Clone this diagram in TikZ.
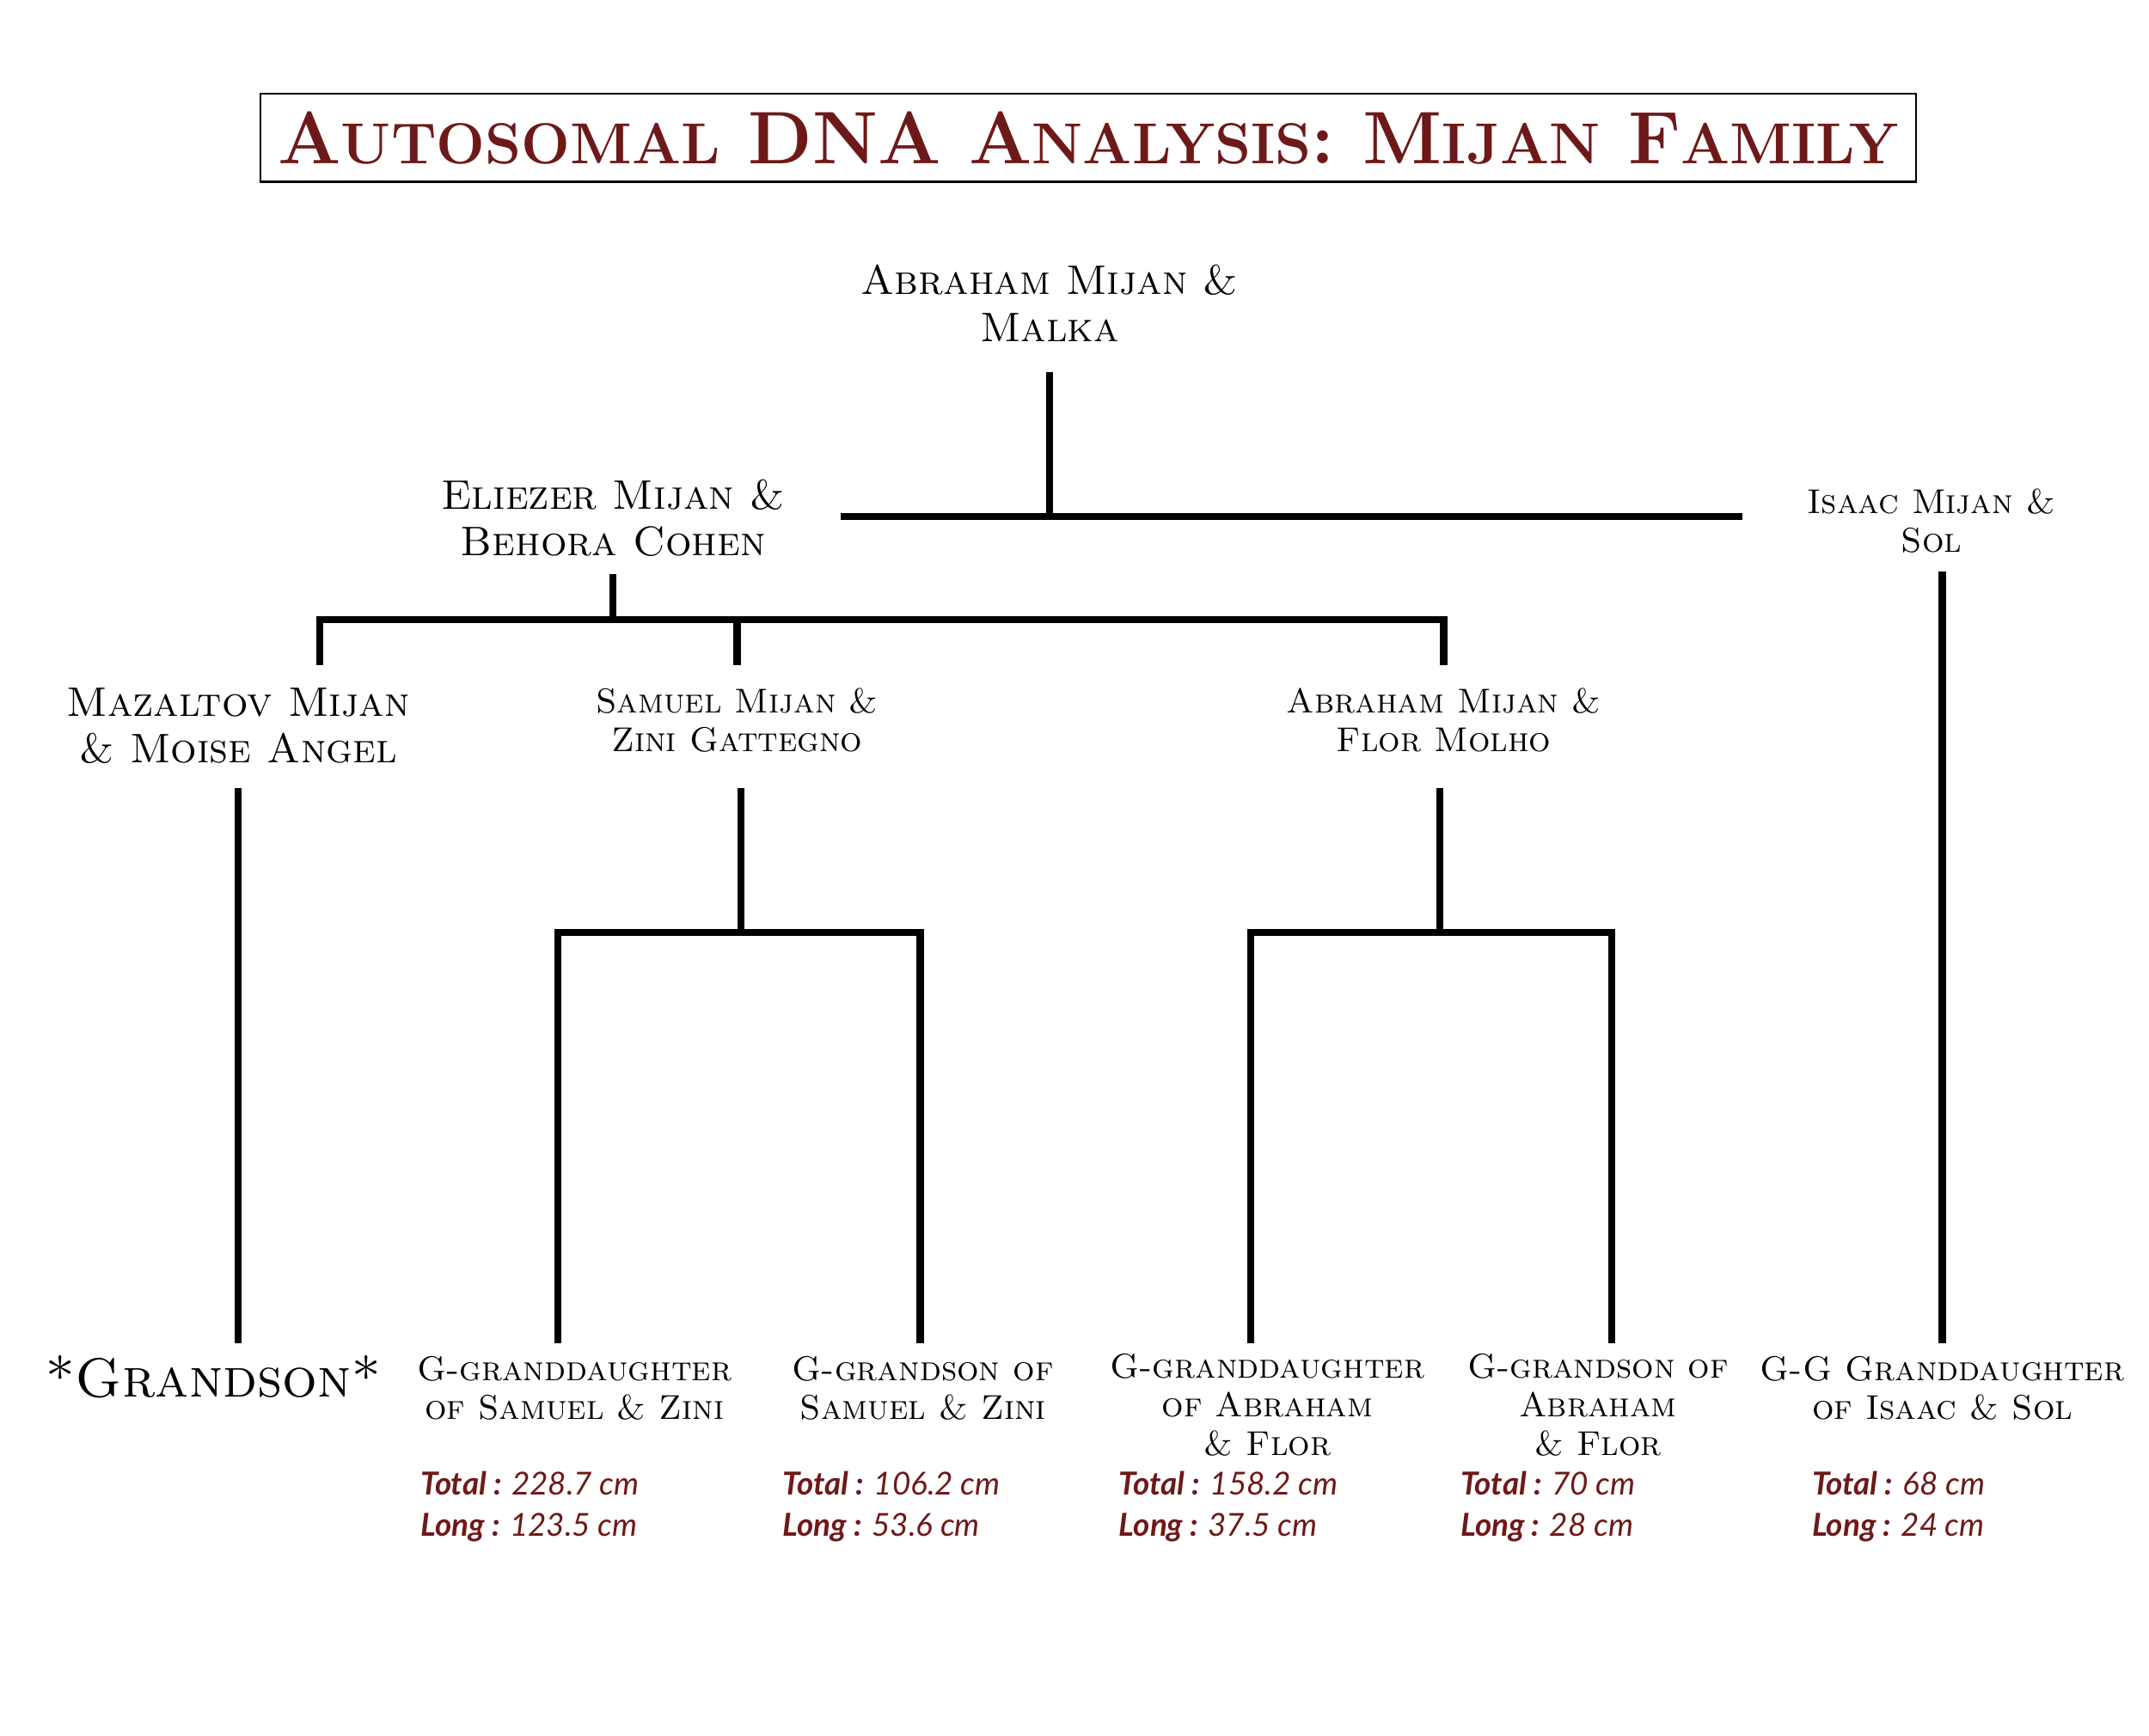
\documentclass[tikz,border=0pt]{standalone}
\usepackage{fontspec}
\newfontfamily\datafont{Lato}
\definecolor{dred}{HTML}{6E1919}
\newcommand{\tsc}[2]{#1{\fontsize{21}{22}\selectfont #2}}
\begin{document}
\begin{tikzpicture}[x=0.5pt,y=-0.5pt,
  line/.style={line width=2.6pt},
  person/.style={align=center,font=\fontsize{15}{17}\selectfont\scshape,inner sep=0pt},
  small/.style={align=center,font=\fontsize{12.5}{14}\selectfont\scshape,inner sep=0pt},
  data/.style={anchor=west,align=left,text=dred,font=\datafont\fontsize{11.5}{15}\selectfont\itshape,inner sep=0pt}]
\useasboundingbox (0,0) rectangle (1560,1260);
\node[draw=black,text=dred,line width=0.8pt,minimum width=601pt,minimum height=32pt,font=\fontsize{27}{30}\selectfont\bfseries] (title) at (790,100) {\tsc{A}{UTOSOMAL} DNA \tsc{A}{NALYSIS}: \tsc{M}{IJAN} \tsc{F}{AMILY}};
\node[person] (am) at (762,220) {Abraham Mijan \&\\Malka};
\node[person] (el) at (445,376) {Eliezer Mijan \&\\Behora Cohen};
\node[small] (is) at (1402,378) {Isaac Mijan \&\\Sol};
\node[person] (mz) at (173,527) {Mazaltov Mijan\\\& Moise Angel};
\node[small] (sa) at (535,523) {Samuel Mijan \&\\Zini Gattegno};
\node[small] (af) at (1048,523) {Abraham Mijan \&\\Flor Molho};
\node[inner sep=0pt,font=\fontsize{20}{22}\selectfont\scshape] (gs) at (155,1000) {*Grandson*};
\node[small] (c1) at (417,1008) {G-granddaughter\\of Samuel \& Zini};
\node[small] (c2) at (670,1008) {G-grandson of\\Samuel \& Zini};
\node[small] (c3) at (920,1020) {G-granddaughter\\of Abraham\\\& Flor};
\node[small] (c4) at (1160,1020) {G-grandson of\\Abraham\\\& Flor};
\node[small] (c5) at (1410,1008) {G-G Granddaughter\\of Isaac \& Sol};
\node[data] (d1) at (305,1094) {\textbf{Total :} 228.7 cm\\\textbf{Long :} 123.5 cm};
\node[data] (d2) at (568,1094) {\textbf{Total :} 106.2 cm\\\textbf{Long :} 53.6 cm};
\node[data] (d3) at (812,1094) {\textbf{Total :} 158.2 cm\\\textbf{Long :} 37.5 cm};
\node[data] (d4) at (1060,1094) {\textbf{Total :} 70 cm\\\textbf{Long :} 28 cm};
\node[data] (d5) at (1315,1094) {\textbf{Total :} 68 cm\\\textbf{Long :} 24 cm};
\coordinate (j0) at (762,375);
\coordinate (j1) at (445,450);
\coordinate (j2) at (538,677);
\coordinate (j3) at (1045,677);
\draw[line] (762,270) -- (j0);
\draw[line] (610,375) -- (1265,375);
\draw[line] (445,417) -- (j1);
\draw[line] (232,483) -- (232,450) -- (1048,450) -- (1048,483);
\draw[line] (535,450) -- (535,483);
\draw[line] (173,572) -- (173,975);
\draw[line] (538,572) -- (j2);
\draw[line] (405,975) -- (405,677) -- (668,677) -- (668,975);
\draw[line] (1045,572) -- (j3);
\draw[line] (908,975) -- (908,677) -- (1170,677) -- (1170,975);
\draw[line] (1410,415) -- (1410,975);
\end{tikzpicture}
\end{document}
